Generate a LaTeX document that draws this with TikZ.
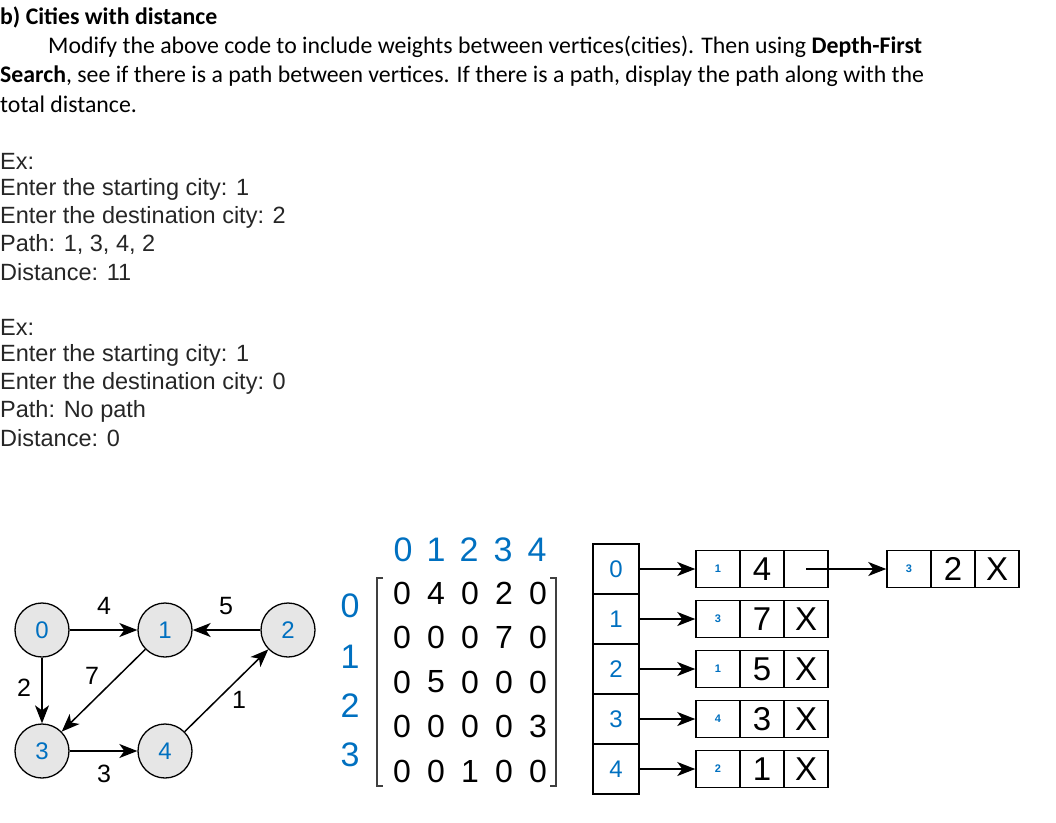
\documentclass[tikz,border=0pt]{standalone}
\usepackage{fontspec}
\setmainfont{Liberation Sans}
\newfontfamily\calfont{Carlito}
\usetikzlibrary{arrows.meta}
\definecolor{myblue}{HTML}{0070C0}
\definecolor{nodegray}{HTML}{E6E6E6}
\begin{document}
\begin{tikzpicture}[x=1pt,y=-1pt,
  para/.style={anchor=west,inner sep=0pt,font=\calfont\fontsize{23.8}{26}\selectfont},
  ex/.style={anchor=west,inner sep=0pt,font=\fontsize{23.5}{26}\selectfont,text=black!85},
  vert/.style={circle,draw,line width=1.3pt,fill=nodegray,minimum size=54pt,inner sep=0pt,text=myblue,font=\fontsize{24}{26}\selectfont},
  edge/.style={line width=1.5pt,-{Stealth[length=18pt,width=14pt,inset=5pt]}},
  elab/.style={font=\fontsize{25}{27}\selectfont,inner sep=0pt},
  hdr/.style={text=myblue,font=\fontsize{34}{36}\selectfont,inner sep=0pt},
  ent/.style={font=\fontsize{32}{34}\selectfont,inner sep=0pt},
  idx/.style={draw,line width=1.5pt,minimum width=46pt,minimum height=50pt,inner sep=0pt,text=myblue,font=\fontsize{24}{26}\selectfont},
  cell/.style={draw,line width=1.5pt,minimum width=44pt,minimum height=37pt,inner sep=0pt,font=\fontsize{33}{35}\selectfont},
  small/.style={cell,text=myblue,font=\bfseries\fontsize{11}{13}\selectfont},
  larr/.style={line width=1.5pt,-{Stealth[length=18pt,width=14pt,inset=5pt]}}
]
\useasboundingbox (0,0) rectangle (1056,822);
% text
\node[para] (t1) at (0,17) {\textbf{b) Cities with distance}};
\node[para] (t2) at (48,47) {Modify the above code to include weights between vertices(cities). Then using \textbf{Depth-First}};
\node[para] (t3) at (0,76) {\textbf{Search}, see if there is a path between vertices. If there is a path, display the path along with the};
\node[para] (t4) at (0,104) {total distance.};
\node[ex] (e1) at (0,161) {Ex:};
\node[ex] (e2) at (0,189) {Enter the starting city: 1};
\node[ex] (e3) at (0,217) {Enter the destination city: 2};
\node[ex] (e4) at (0,244) {Path: 1, 3, 4, 2};
\node[ex] (e5) at (0,272) {Distance: 11};
\node[ex] (f1) at (0,327) {Ex:};
\node[ex] (f2) at (0,355) {Enter the starting city: 1};
\node[ex] (f3) at (0,383) {Enter the destination city: 0};
\node[ex] (f4) at (0,411) {Path: No path};
\node[ex] (f5) at (0,438) {Distance: 0};
% graph
\node[vert] (v0) at (42,630) {0};
\node[vert] (v1) at (165,630) {1};
\node[vert] (v2) at (288,630) {2};
\node[vert] (v3) at (42,751) {3};
\node[vert] (v4) at (165,751) {4};
\draw[edge] (v0) -- (v1);
\draw[edge] (v2) -- (v1);
\draw[edge] (v0) -- (v3);
\draw[edge] (v1) -- (v3);
\draw[edge] (v3) -- (v4);
\draw[edge] (v4) -- (v2);
\node[elab] (l4) at (104,606) {4};
\node[elab] (l5) at (226,606) {5};
\node[elab] (l2) at (24,688) {2};
\node[elab] (l7) at (92,676) {7};
\node[elab] (l1) at (239,700) {1};
\node[elab] (l3) at (104,774) {3};
% matrix
\foreach \c/\x in {0/403,1/436,2/469,3/503,4/537} {\node[hdr] (h\c) at (\x,550) {\c};}
\foreach \r/\y in {0/606,1/657,2/706,3/755} {\node[hdr] (r\r) at (350,\y) {\r};}
\foreach \row [count=\i from 0] in {{0,4,0,2,0},{0,0,0,7,0},{0,5,0,0,0},{0,0,0,0,3},{0,0,1,0,0}} {
  \foreach \v [count=\j from 0] in \row {
    \node[ent] (m\i\j) at ({402+34*\j},{593+44.5*\i}) {\v};
  }
}
\draw[line width=1.2pt,black!75] (383,578) -- (377,578) -- (377,786) -- (383,786);
\draw[line width=1.2pt,black!75] (550,578) -- (556,578) -- (556,786) -- (550,786);
% adjacency list
\foreach \k in {0,...,4} {\node[idx] (i\k) at (616,{569+50*\k}) {\k};}
\foreach \k/\a/\b in {0/1/4,1/3/7,2/1/5,3/4/3,4/2/1} {
  \node[small] (a\k) at (718,{569+50*\k}) {\a};
  \node[cell] (b\k) at (762,{569+50*\k}) {\b};
  \draw[larr] (i\k.east) -- (a\k.west);
}
\foreach \k in {1,...,4} {\node[cell] (c\k) at (806,{569+50*\k}) {X};}
\node[cell] (c0) at (806,569) {};
\node[small] (d0) at (909,569) {3};
\node[cell] (e0) at (953,569) {2};
\node[cell] (g0) at (997,569) {X};
\draw[larr] (c0.center) -- (d0.west);
\end{tikzpicture}
\end{document}
